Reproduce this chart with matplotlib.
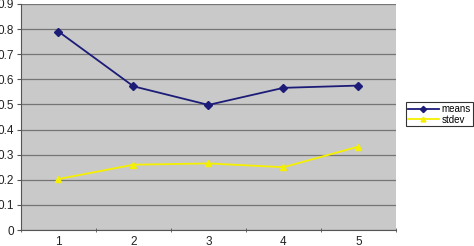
import matplotlib.pyplot as plt
import numpy as np

plt.rcParams['font.family'] = ['Liberation Sans', 'DejaVu Sans']

# data
cats = [1, 2, 3, 4, 5]
means = [0.79, 0.572, 0.498, 0.566, 0.575]
stdev = [0.203, 0.26, 0.265, 0.25, 0.332]
yticks = [0, 0.1, 0.2, 0.3, 0.4, 0.5, 0.6, 0.7, 0.8, 0.9]

fig = plt.figure(figsize=(4.74, 2.46), dpi=100)
ax = fig.add_axes([0.0443, 0.065, 0.791, 0.919])
ax.set_facecolor('#c9c9c9')

ax.plot(cats, means, color='#1c1c78', marker='D', markersize=4.5, lw=1.3, label='means')
ax.plot(cats, stdev, color='#f5f000', marker='^', markersize=5, lw=1.3, label='stdev')

ax.set_xlim(0.5, 5.5)
ax.set_ylim(0, 0.9)
ax.set_yticks(yticks)
ax.set_yticklabels(['0'] + ['%.1f' % v for v in yticks[1:]])
ax.set_xticks(cats)
ax.set_xticks(np.arange(0.5, 5.6, 1), minor=True)
ax.tick_params(axis='x', which='major', length=0, pad=4, labelsize=8.5, colors='#222222')
ax.tick_params(axis='x', which='minor', length=3, direction='inout', color='#555555')
ax.tick_params(axis='y', length=3, direction='out', pad=2, labelsize=8.5, colors='#222222')
ax.tick_params(axis='y', color='#555555')
ax.grid(axis='y', color='#757575', lw=0.9)
ax.set_axisbelow(True)
for s in ['top', 'right']:
    ax.spines[s].set_visible(False)
for s in ['left', 'bottom']:
    ax.spines[s].set_color('#555555')

leg = fig.legend(loc='upper left', bbox_to_anchor=(0.856, 0.585), fontsize=7,
                 frameon=True, fancybox=False, edgecolor='black', handlelength=3.2,
                 markerscale=0.7, borderpad=0.2, labelspacing=0.05, handletextpad=0.3,
                 borderaxespad=0)
leg.get_frame().set_linewidth(0.8)

fig.savefig('out.png', dpi=100)
